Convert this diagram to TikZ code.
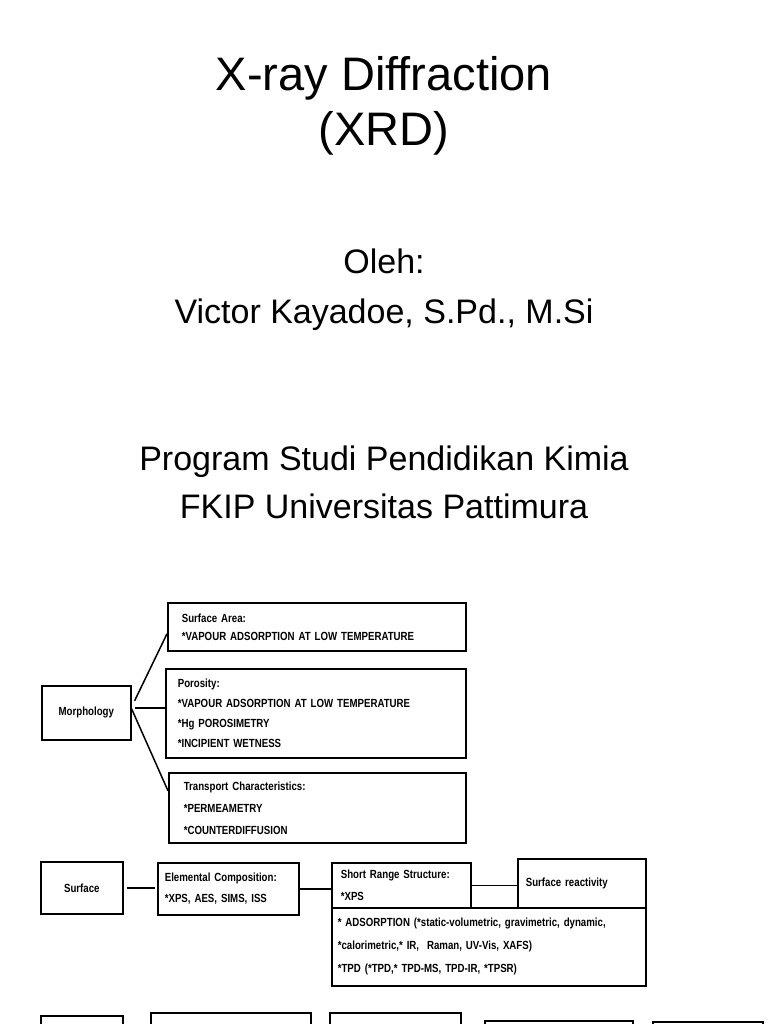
\documentclass[tikz,border=0pt]{standalone}
\usepackage{fontspec}
\setmainfont{Liberation Sans}
\newfontfamily\dfont[FakeStretch=0.82,WordSpace=0.8]{Liberation Sans}
\begin{document}
\begin{tikzpicture}[x=1pt,y=-1pt,
  title/.style={anchor=base, font=\fontsize{47}{56}\selectfont},
  sub/.style={anchor=base, font=\fontsize{34}{40}\selectfont},
  dbox/.style={draw, line width=1.6pt, anchor=north west, inner ysep=0pt,
    font=\dfont\bfseries\fontsize{11.8}{18}\selectfont},
  conn/.style={line width=1.5pt}]
\useasboundingbox (0,0) rectangle (768,1024);
\clip (0,0) rectangle (768,1024);
\fill[white] (0,0) rectangle (768,1024);

% Title block
\node[title] (t1) at (384,91) {X-ray Diffraction};
\node[title] (t2) at (384,146) {(XRD)};
\node[sub] (o1) at (384,273) {Oleh:};
\node[sub] (o2) at (384,323) {Victor Kayadoe, S.Pd., M.Si};
\node[sub] (p1) at (384,470) {Program Studi Pendidikan Kimia};
\node[sub] (p2) at (384,518) {FKIP Universitas Pattimura};

% Morphology group
\node[dbox, minimum width=89pt, minimum height=54pt, align=center] (morph) at (41,685) {Morphology};
\node[dbox, text width=270pt, inner xsep=14pt, minimum height=48pt, align=left] (sa) at (167,602)
  {Surface Area:\\{}*VAPOUR ADSORPTION AT LOW TEMPERATURE};
\node[dbox, text width=276pt, inner xsep=12pt, minimum height=89pt, align=left,
  font=\dfont\bfseries\fontsize{11.8}{20}\selectfont] (por) at (165,668)
  {Porosity:\\{}*VAPOUR ADSORPTION AT LOW TEMPERATURE\\{}*Hg POROSIMETRY\\{}*INCIPIENT WETNESS};
\node[dbox, text width=267pt, inner xsep=15pt, minimum height=70pt, align=left,
  font=\dfont\bfseries\fontsize{11.8}{22}\selectfont] (tr) at (168,772)
  {Transport Characteristics:\\{}*PERMEAMETRY\\{}*COUNTERDIFFUSION};

\draw[conn] ([xshift=3pt,yshift=12pt]morph.east) -- ([yshift=-7pt]sa.west);
\draw[conn] ([xshift=3pt,yshift=5pt]morph.east) -- ([yshift=5pt]morph.east -| por.west);
\draw[conn] ([yshift=4pt]morph.east) -- ([yshift=17pt]tr.west);

% Surface group
\node[dbox, minimum width=82pt, minimum height=52pt, align=center] (surf) at (40,861) {Surface};
\node[dbox, text width=127pt, inner xsep=7pt, minimum height=52pt, align=left,
  font=\dfont\bfseries\fontsize{11.8}{21}\selectfont] (elem) at (157,862)
  {Elemental Composition:\\{}*XPS, AES, SIMS, ISS};
\node[dbox, text width=121pt, inner xsep=9pt, minimum height=45pt, align=left,
  font=\dfont\bfseries\fontsize{11.8}{22}\selectfont] (sr) at (331,862)
  {Short Range Structure:\\{}*XPS};
\node[dbox, text width=112pt, inner xsep=8pt, minimum height=49pt, align=left] (srx) at (517,858)
  {Surface reactivity};
\node[dbox, text width=302pt, inner xsep=6pt, minimum height=78pt, align=left,
  font=\dfont\bfseries\fontsize{11.8}{23}\selectfont] (ads) at (331,907)
  {* ADSORPTION (*static-volumetric, gravimetric, dynamic,\\{}*calorimetric,* IR,\ \ Raman, UV-Vis, XAFS)\\{}*TPD (*TPD,* TPD-MS, TPD-IR, *TPSR)};

\draw[conn, shorten <=3pt, shorten >=2pt] (surf.east) -- (surf.east -| elem.west);
\draw[conn] (elem.east) -- (elem.east -| sr.west);
\draw[conn] (sr.east) -- (sr.east -| srx.west);

% Third row (cut off at the page edge)
\node[dbox, minimum width=82pt, minimum height=40pt] (r3a) at (40,1015) {};
\node[dbox, minimum width=160pt, minimum height=40pt] (r3b) at (150,1012) {};
\node[dbox, minimum width=131pt, minimum height=40pt] (r3c) at (329,1012) {};
\node[dbox, minimum width=148pt, minimum height=40pt] (r3d) at (484,1020) {};
\node[dbox, minimum width=110pt, minimum height=40pt] (r3e) at (652,1021) {};
\end{tikzpicture}
\end{document}
